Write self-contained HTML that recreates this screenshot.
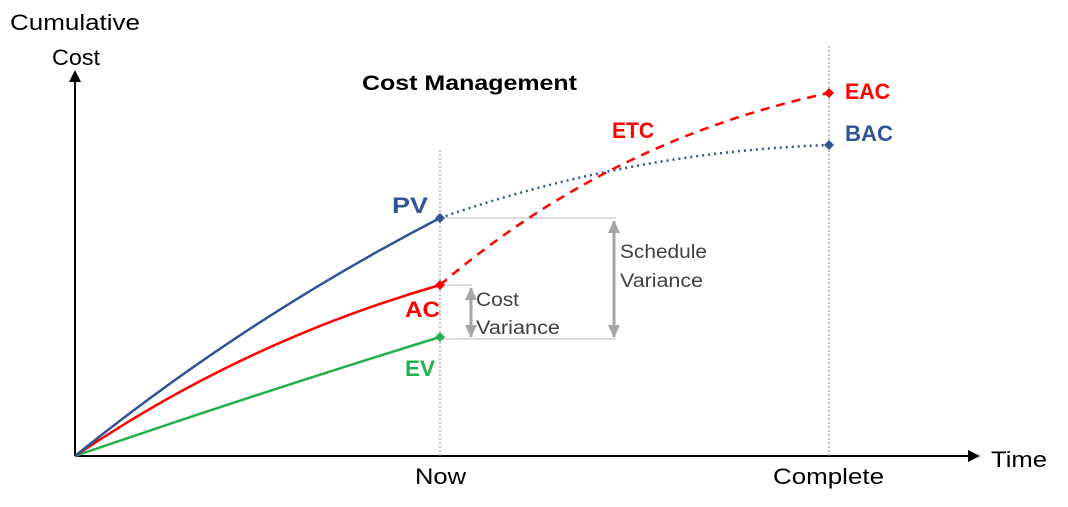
<!DOCTYPE html>
<html><head><meta charset="utf-8"><style>
html,body{margin:0;padding:0;background:#fff;}
svg{display:block;font-family:"Liberation Sans",sans-serif;}
</style></head><body>
<svg id="chart" width="1068" height="507" viewBox="0 0 1068 507">
<defs>
<marker id="ah" markerWidth="12" markerHeight="12" refX="10" refY="6" orient="auto" markerUnits="userSpaceOnUse"><path d="M0,0 L12,6 L0,12 z" fill="#000"/></marker>
<marker id="gh" markerWidth="14" markerHeight="14" refX="12" refY="7" orient="auto-start-reverse" markerUnits="userSpaceOnUse"><path d="M0,1 L13,7 L0,13 z" fill="#a6a6a6"/></marker>
</defs>
<g id="layer"></g>
</svg>
<script>
// data (cost units, time units)
const timeLabels = ["Now","Complete"];
const timePoints = [0, 365, 754];
const pvValues = [0, 238, 311];   // PV at start, now; BAC at complete
const acValues = [0, 171];
const evValues = [0, 119];
const eacValue = 363;

const X0 = 75, Y0 = 456;
const xs = t => X0 + t;
const ys = v => Y0 - v;
const NS = "http://www.w3.org/2000/svg";
const layer = document.getElementById("layer");
function mk(tag, attrs, parent){const e=document.createElementNS(NS,tag);for(const k in attrs)e.setAttribute(k,attrs[k]);(parent||layer).appendChild(e);return e;}
function txt(s,x,y,attrs){const e=mk("text",Object.assign({x:x,y:y},attrs));e.textContent=s;return e;}

let e;
e=mk("line",{x1:X0,y1:Y0,x2:X0,y2:72,stroke:"#000","stroke-width":2,"marker-end":"url(#ah)"});


e=mk("line",{x1:X0,y1:Y0,x2:978,y2:Y0,stroke:"#000","stroke-width":2,"marker-end":"url(#ah)"});



e=mk("line",{x1:xs(timePoints[1]),y1:Y0,x2:xs(timePoints[1]),y2:150,stroke:"#888","stroke-width":1,"stroke-dasharray":"2,2"});


e=mk("line",{x1:xs(timePoints[2]),y1:Y0,x2:xs(timePoints[2]),y2:45,stroke:"#888","stroke-width":1,"stroke-dasharray":"2,2"});



function curve(t0,v0,t1,v1,bend,attrs){
  const x0=xs(t0),y0=ys(v0),x1=xs(t1),y1=ys(v1);
  const mx=(x0+x1)/2, my=(y0+y1)/2;
  const dx=x1-x0, dy=y1-y0, L=Math.hypot(dx,dy);
  const nx=dy/L, ny=-dx/L;
  return mk("path",Object.assign({d:`M${x0},${y0} Q${mx+nx*bend},${my+ny*bend} ${x1},${y1}`,fill:"none"},attrs));
}
e=mk("line",{x1:xs(timePoints[1]),y1:ys(pvValues[1]),x2:616,y2:ys(pvValues[1]),stroke:"#d0d0d0","stroke-width":1.5});


e=mk("line",{x1:xs(timePoints[1]),y1:ys(evValues[1])+2,x2:616,y2:ys(evValues[1])+2,stroke:"#d0d0d0","stroke-width":1.5});


e=mk("line",{x1:xs(timePoints[1]),y1:ys(acValues[1]),x2:472,y2:ys(acValues[1]),stroke:"#d0d0d0","stroke-width":1.5});


e=mk("line",{x1:614,y1:ys(pvValues[1])+3,x2:614,y2:ys(evValues[1]),stroke:"#a6a6a6","stroke-width":3,"marker-start":"url(#gh)","marker-end":"url(#gh)"});


e=mk("line",{x1:471,y1:ys(acValues[1])+3,x2:471,y2:ys(evValues[1]),stroke:"#a6a6a6","stroke-width":3,"marker-start":"url(#gh)","marker-end":"url(#gh)"});



e=curve(0,0,timePoints[1],evValues[1],3,{stroke:"#22b14c","stroke-width":2.5});


e=curve(0,0,timePoints[1],acValues[1],32,{stroke:"#ff0000","stroke-width":2.5});


e=curve(0,0,timePoints[1],pvValues[1],22,{stroke:"#2f5597","stroke-width":2.5});


e=curve(timePoints[1],pvValues[1],timePoints[2],pvValues[2],30,{stroke:"#2f5597","stroke-width":2.5,"stroke-dasharray":"2,4"});


e=curve(timePoints[1],acValues[1],timePoints[2],eacValue,55,{stroke:"#ff0000","stroke-width":2.5,"stroke-dasharray":"9,7"});



function diamond(t,v,color,name){
  const x=xs(t),y=ys(v);
  const d=mk("path",{d:`M${x},${y-5} L${x+5},${y} L${x},${y+5} L${x-5},${y} z`,fill:color});
  
  
}
diamond(timePoints[1],pvValues[1],"#2f5597","pv-marker");
diamond(timePoints[1],acValues[1],"#ff0000","ac-marker");
diamond(timePoints[1],evValues[1],"#22b14c","ev-marker");
diamond(timePoints[2],pvValues[2],"#2f5597","bac-marker");
diamond(timePoints[2],eacValue,"#ff0000","eac-marker");

function label(s,x,y,attrs,name,len){const a=Object.assign({},attrs);if(len){a.textLength=len;a.lengthAdjust="spacingAndGlyphs";}const t=txt(s,x,y,a);}
label("Cumulative",10,30,{"font-size":22,fill:"#000"},"y-axis-title-line1",130);
label("Cost",52,65,{"font-size":22,fill:"#000"},"y-axis-title-line2",48);
label("Cost Management",362,90,{"font-size":21,"font-weight":"bold",fill:"#000"},"chart-title",215);
label(timeLabels[0],415,484,{"font-size":22},"x-tick-now",51);
label(timeLabels[1],773,484,{"font-size":22},"x-tick-complete",111);
label("Time",991,467,{"font-size":22},"x-axis-title",56);
const B={"font-size":22,"font-weight":"bold"};
label("PV",392,213,Object.assign({fill:"#2f5597"},B),"pv-label",36);
label("AC",405,317,Object.assign({fill:"#ff0000"},B),"ac-label",35);
label("EV",405,376,Object.assign({fill:"#22b14c"},B),"ev-label",30);
label("EAC",845,99,Object.assign({fill:"#ff0000"},B),"eac-label",45);
label("BAC",845,141,Object.assign({fill:"#2f5597"},B),"bac-label",48);
label("ETC",612,138,Object.assign({fill:"#ff0000"},B),"etc-label",42);
const G={"font-size":19,fill:"#404040"};
label("Schedule",620,258,G,"schedule-variance-label-1",87);
label("Variance",620,287,G,"schedule-variance-label-2",83);
label("Cost",476,306,G,"cost-variance-label-1",43);
label("Variance",476,334,G,"cost-variance-label-2",84);
</script>
</body></html>
